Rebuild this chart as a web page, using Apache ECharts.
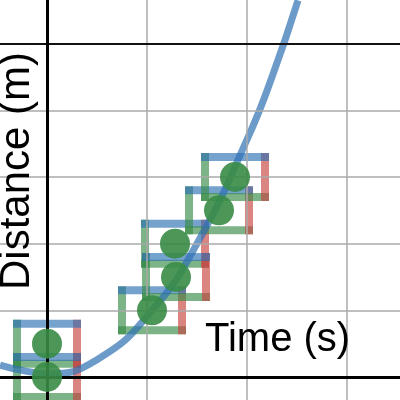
<!DOCTYPE html>
<html><head><meta charset="utf-8">
<script src="https://cdn.jsdelivr.net/npm/echarts@6/dist/echarts.min.js"></script>
<style>html,body{margin:0;padding:0;background:#fff}#c{width:400px;height:400px}</style>
</head><body><div id="c"></div>
<script>
const pointX = [0, 0, 1.05, 1.28, 1.29, 1.72, 1.88];
const pointY = [0.5, 0, 1.0, 2.0, 1.5, 2.5, 3.0];
const boxHalf = 0.3;
const curveX = [-0.47, -0.25, 0, 0.5, 1.05, 1.5, 2.0, 2.25, 2.51];
const curveY = [0.18, 0.1, 0.05, 0.26, 1.0, 2.0, 3.56, 4.5, 5.65];
const gridX = [1, 2, 3];
const gridY = [1, 2, 3, 4];
const majorY = [5];
const xLabel = 'Time (s)';
const yLabel = 'Distance (m)';

const chart = echarts.init(document.getElementById('c'));
const pts = pointX.map((x, i) => [x, pointY[i]]);
const curve = curveX.map((x, i) => [x, curveY[i]]);
const ln = (w, c) => ({lineStyle: {color: c, width: w, type: 'solid'}});
const gridLines = [
  ...gridX.map(v => ({xAxis: v, ...ln(1.5, '#aaa')})),
  ...gridY.map(v => ({yAxis: v, ...ln(1.5, '#aaa')})),
  ...majorY.map(v => ({yAxis: v, ...ln(2, '#111')})),
  {xAxis: 0, ...ln(3, '#000')},
  {yAxis: 0, ...ln(3, '#000')}
];
chart.setOption({
  animation: false,
  grid: {left: 0, right: 0, top: 0, bottom: 0},
  xAxis: {type: 'value', min: -0.47, max: 3.53, show: false},
  yAxis: {type: 'value', min: -0.345, max: 5.655, show: false},
  graphic: [
    {type: 'text', left: 205, top: 320, z: 10, style: {text: xLabel, font: '40px "Liberation Sans", Arial', fill: '#000'}},
    {type: 'text', x: 38, y: 290, rotation: Math.PI / 2, z: 10, style: {text: yLabel, font: '42px "Liberation Sans", Arial', fill: '#000', align: 'left', verticalAlign: 'bottom'}}
  ],
  series: [
    {type: 'line', data: [], markLine: {silent: true, symbol: 'none', label: {show: false}, data: gridLines}, z: 1},
    {
      type: 'custom', data: pts, z: 3,
      renderItem: (params, api) => {
        const x = api.value(0), y = api.value(1);
        const tl = api.coord([x - boxHalf, y + boxHalf]);
        const br = api.coord([x + boxHalf, y - boxHalf]);
        const seg = (a, b, c) => ({type: 'line', shape: {x1: a[0], y1: a[1], x2: b[0], y2: b[1]},
          style: {stroke: c, lineWidth: 8, opacity: 0.65, lineCap: 'square'}});
        return {type: 'group', children: [
          seg([tl[0], tl[1]], [tl[0], br[1]], '#388c46'),
          seg([tl[0], br[1]], [br[0], br[1]], '#388c46'),
          seg([br[0], tl[1]], [br[0], br[1]], '#c74440'),
          seg([tl[0], tl[1]], [br[0], tl[1]], '#2d70b3')
        ]};
      }
    },
    {type: 'line', data: curve, smooth: true, symbol: 'none', z: 4,
      lineStyle: {color: '#2d70b3', width: 7, opacity: 0.7}},
    {type: 'scatter', data: pts, symbolSize: 30, z: 5,
      itemStyle: {color: '#388c46', opacity: 0.9}}
  ]
});
</script></body></html>
